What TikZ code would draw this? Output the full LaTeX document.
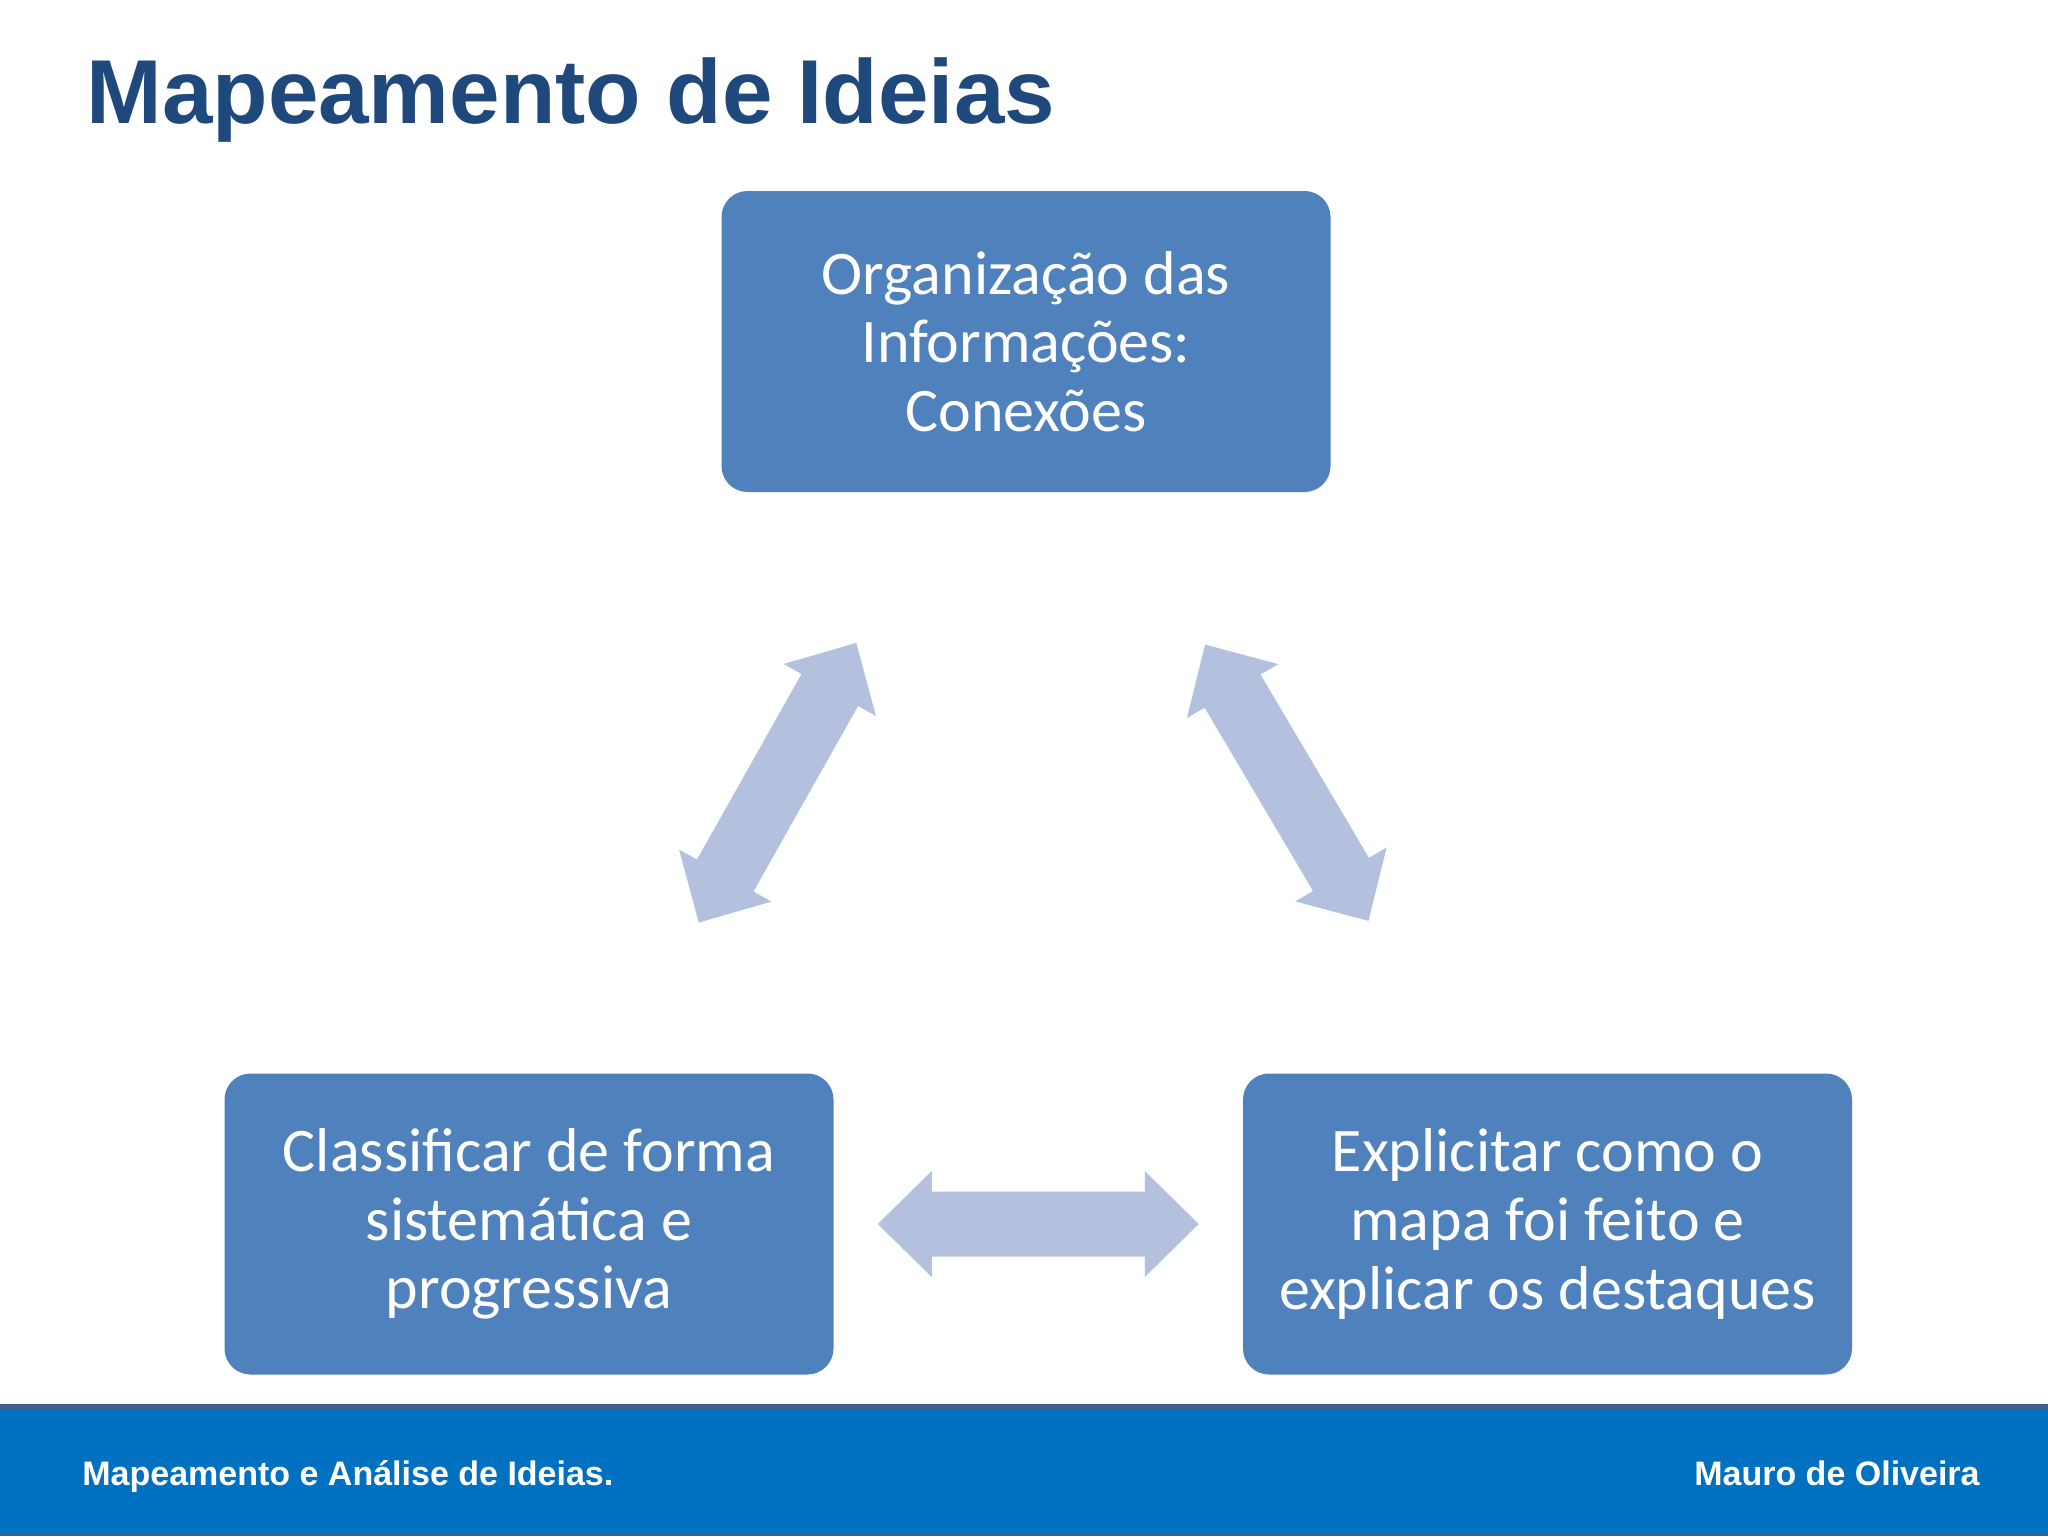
\documentclass[tikz,border=0pt]{standalone}
\usepackage{fontspec}
\setmainfont{Liberation Sans}
\newfontfamily\carlito{Carlito}
\usetikzlibrary{calc}
\definecolor{boxblue}{HTML}{4F81BD}
\definecolor{arrowblue}{HTML}{B4C1DE}
\definecolor{titleblue}{HTML}{1F497D}
\definecolor{footblue}{HTML}{0070C0}
\definecolor{footline}{HTML}{3E5F8A}
\tikzset{
  ideabox/.style={rectangle, rounded corners=13pt, fill=boxblue, text=white,
    minimum width=304.5pt, minimum height=150.5pt, inner sep=0pt, align=center,
    font=\carlito\fontsize{31pt}{34.3pt}\selectfont},
  arrowfill/.style={fill=arrowblue},
  foottext/.style={inner sep=0pt, text=white, font=\bfseries\fontsize{17pt}{20pt}\selectfont}
}
\newcommand\blockarrow[2]{%
  \fill[arrowfill, shift={#1}, rotate=#2]
    (-160.5,0) -- (-106.5,53) -- (-106.5,32.5) -- (106.5,32.5) -- (106.5,53)
    -- (160.5,0) -- (106.5,-53) -- (106.5,-32.5) -- (-106.5,-32.5) -- (-106.5,-53) -- cycle;}
\begin{document}
\begin{tikzpicture}[x=0.5pt,y=-0.5pt]
\useasboundingbox (0,0) rectangle (2048,1536);
\fill[white] (0,0) rectangle (2048,1536);
% title
\node[anchor=base west, inner sep=0pt, text=titleblue, font=\bfseries\fontsize{45.4pt}{50pt}\selectfont] (title) at (86,124) {Mapeamento de Ideias};
% boxes
\node[ideabox] (top) at (1026,341.5) {Organização das\\Informações:\\Conexões};
\node[ideabox] (bl) at (529,1224) {Classificar de forma\\sistemática e\\progressiva};
\node[ideabox] (br) at (1547.5,1224) {Explicitar como o\\mapa foi feito e\\explicar os destaques};
% block arrows
\blockarrow{($(bl)!0.5!(top)$)}{60.6}
\blockarrow{($(top)!0.5!(br)$)}{-59.4}
\blockarrow{($(bl)!0.5!(br)$)}{0}
% footer
\fill[footblue] (0,1405) rectangle (2048,1536);
\fill[footline] (0,1404) rectangle (2048,1410);
\fill[footline] (0,1533) rectangle (2048,1536);
\node[foottext, anchor=base west] (fl) at (82,1485) {Mapeamento e Análise de Ideias.};
\node[foottext, anchor=base east] (fr) at (1980,1485) {Mauro de Oliveira};
\end{tikzpicture}
\end{document}
